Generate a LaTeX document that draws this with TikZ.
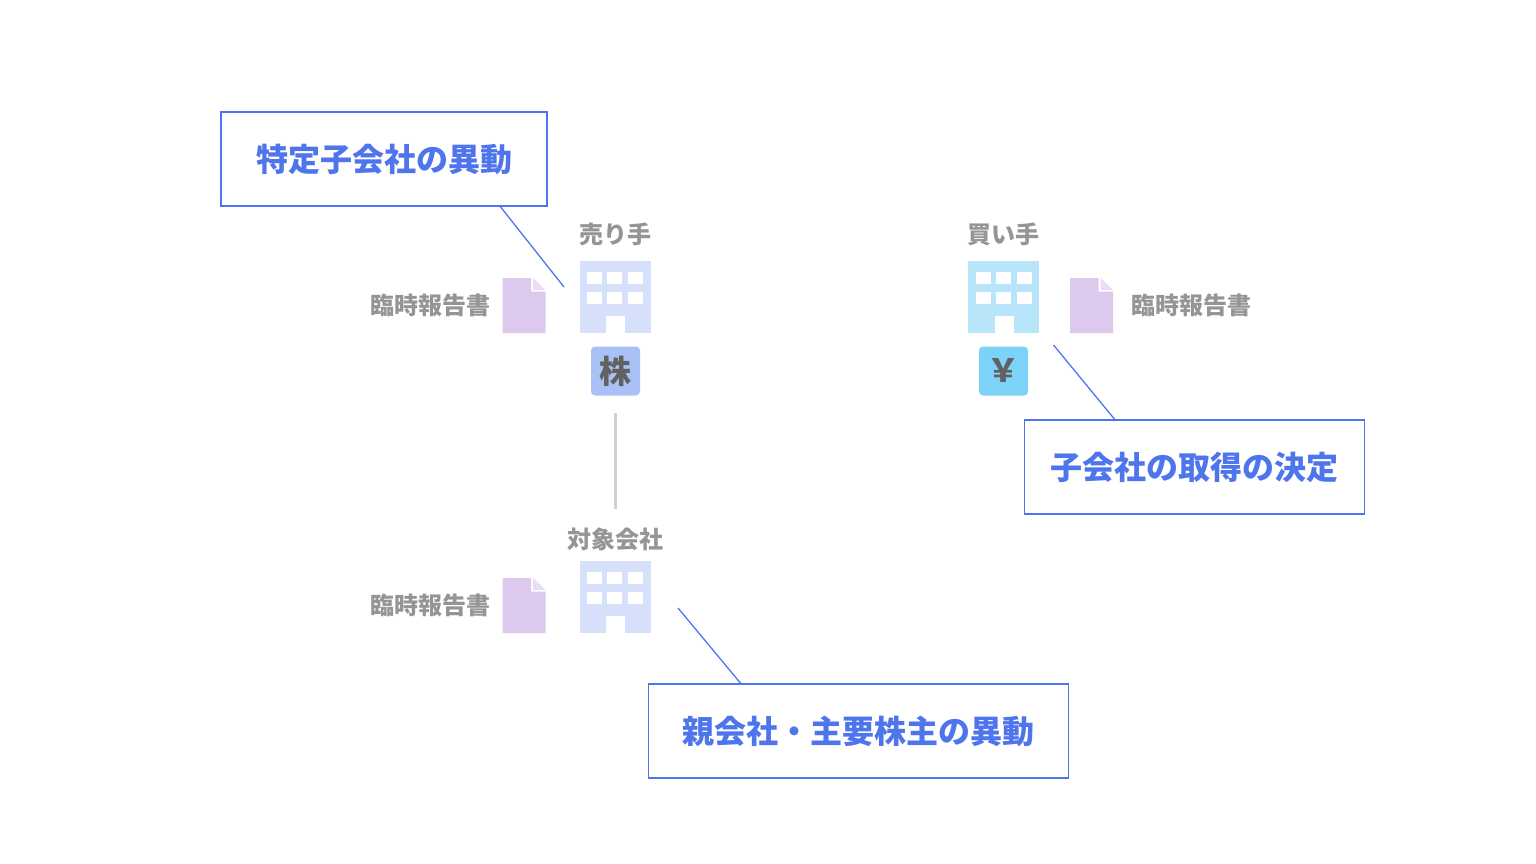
\documentclass[tikz,border=0pt]{standalone}
\usepackage{fontspec}
\setmainfont{Noto Sans CJK JP}
\usetikzlibrary{backgrounds,shapes}
\definecolor{calloutblue}{HTML}{4F75EC}
\definecolor{labelgray}{HTML}{959595}
\definecolor{sellerblue}{HTML}{D6E0FA}
\definecolor{buyerblue}{HTML}{B8E5FA}
\definecolor{stockblue}{HTML}{A9C1F5}
\definecolor{cashblue}{HTML}{7DD3F7}
\definecolor{sheetpurple}{HTML}{DDC9EE}
\definecolor{foldpurple}{HTML}{E9DCF4}
\pgfdeclarelayer{edgelayer}
\pgfdeclarelayer{nodelayer}
\pgfsetlayers{edgelayer,nodelayer,main}
\tikzstyle{none}=[inner sep=0pt]
\tikzstyle{callout}=[draw=calloutblue,line width=1.3pt,fill=white,inner sep=0pt,text=calloutblue,font=\fontsize{32}{32}\selectfont\bfseries]
\tikzstyle{graylabel}=[inner sep=0pt,text=labelgray,font=\fontsize{24}{24}\selectfont\bfseries]
\tikzstyle{badge}=[rounded corners=4pt,minimum width=49pt,minimum height=49pt,inner sep=0pt,text=black!62,font=\fontsize{32}{32}\selectfont\bfseries]
\tikzstyle{leader}=[draw=calloutblue,line width=1.3pt]
\tikzset{
	building/.pic={
		\fill [#1] (-35.6,-36) rectangle (35.6,36);
		\foreach \wx in {-28,-8,13}
			\foreach \wy in {-25,-5}
				\fill [white] (\wx,\wy) rectangle +(15,11.5);
		\fill [white] (-9,19) rectangle (10,36);
	},
	sheet/.pic={
		\fill [sheetpurple] (-21.5,-27.5) -- (7,-27.5) -- (7,-14) -- (21.5,-14) -- (21.5,27.5) -- (-21.5,27.5) -- cycle;
		\fill [foldpurple] (9,-27.5) -- (21.5,-15.5) -- (9,-15.5) -- cycle;
	}
}
\begin{document}
\begin{tikzpicture}[x=1pt,y=-1pt]
	\useasboundingbox (0,0) rectangle (1536,864);
	\begin{pgfonlayer}{nodelayer}
		\node [style=callout,minimum width=326pt,minimum height=94pt] (0) at (384, 159) {特定子会社の異動};
		\node [style=callout,minimum width=340pt,minimum height=94pt] (1) at (1194.3, 467) {子会社の取得の決定};
		\node [style=callout,minimum width=420pt,minimum height=94pt] (2) at (858.3, 731) {親会社・主要株主の異動};
		\node [style=graylabel] (3) at (615, 234) {売り手};
		\node [style=graylabel] (4) at (1003.5, 234) {買い手};
		\node [style=graylabel] (5) at (615.5, 539) {対象会社};
		\node [style=graylabel] (6) at (430.5, 305) {臨時報告書};
		\node [style=graylabel] (7) at (1191.5, 305) {臨時報告書};
		\node [style=graylabel] (8) at (430.5, 605) {臨時報告書};
		\node [style=badge,fill=stockblue] (9) at (615.5, 371) {株};
		\node [style=badge,fill=cashblue] (10) at (1003.5, 371) {￥};
		\coordinate (11) at (564, 287);
		\coordinate (12) at (1053.5, 345);
		\coordinate (13) at (678, 608);
		\pic at (615.4, 297) {building=sellerblue};
		\pic at (1003.6, 297) {building=buyerblue};
		\pic at (615.4, 597) {building=sellerblue};
		\pic at (524, 305.5) {sheet};
		\pic at (1091.5, 305.5) {sheet};
		\pic at (524, 605.5) {sheet};
	\end{pgfonlayer}
	\begin{pgfonlayer}{edgelayer}
		\draw [style=leader] ([xshift=280pt]0.south west) to (11);
		\draw [style=leader] (12) to ([xshift=91pt]1.north west);
		\draw [style=leader] (13) to ([xshift=93pt]2.north west);
		\draw [line width=3pt,draw=black!18,shorten <=17pt,shorten >=18.5pt] (9.south) to (5.north);
	\end{pgfonlayer}
\end{tikzpicture}
\end{document}
